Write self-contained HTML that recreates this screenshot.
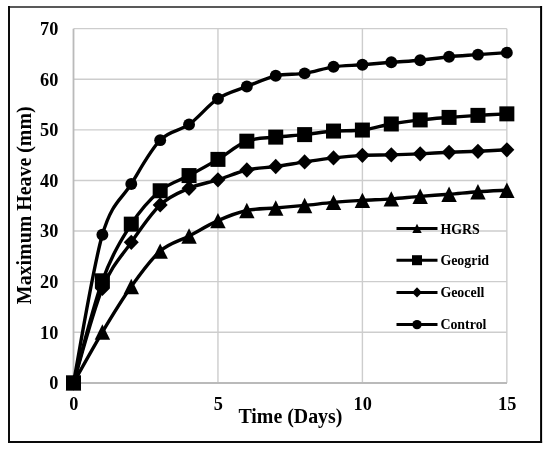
<!DOCTYPE html>
<html><head><meta charset="utf-8"><style>
html,body{margin:0;padding:0;background:#fff;}
body{width:550px;height:451px;overflow:hidden;}
svg{display:block;}
text{font-family:"Liberation Serif","Times New Roman",serif;font-weight:bold;fill:#000;}
</style></head><body>
<svg width="550" height="451" viewBox="0 0 550 451">
<rect x="0" y="0" width="550" height="451" fill="#fff"/>
<line x1="8" y1="6.9" x2="542" y2="6.9" stroke="#595959" stroke-width="2"/>
<line x1="9" y1="6" x2="9" y2="443" stroke="#0d0d0d" stroke-width="2"/>
<line x1="541.1" y1="6" x2="541.1" y2="443" stroke="#000" stroke-width="2"/>
<line x1="8" y1="441.9" x2="542.1" y2="441.9" stroke="#0a0a0a" stroke-width="2"/>
<g stroke="#cdcdcd" stroke-width="1.4">
<line x1="73.50" y1="332.21" x2="506.85" y2="332.21"/>
<line x1="73.50" y1="281.62" x2="506.85" y2="281.62"/>
<line x1="73.50" y1="231.03" x2="506.85" y2="231.03"/>
<line x1="73.50" y1="180.44" x2="506.85" y2="180.44"/>
<line x1="73.50" y1="129.85" x2="506.85" y2="129.85"/>
<line x1="73.50" y1="79.26" x2="506.85" y2="79.26"/>
<line x1="73.50" y1="28.67" x2="506.85" y2="28.67"/>
<line x1="217.95" y1="28.67" x2="217.95" y2="382.80"/>
<line x1="362.40" y1="28.67" x2="362.40" y2="382.80"/>
<line x1="506.85" y1="28.67" x2="506.85" y2="382.80"/>
</g>
<line x1="73.5" y1="28.67" x2="73.5" y2="383.8" stroke="#bababa" stroke-width="1.8"/>
<line x1="72.6" y1="382.95" x2="507" y2="382.95" stroke="#bababa" stroke-width="2"/>
<g font-size="18.3" text-anchor="end">
<text x="58.3" y="389.10">0</text>
<text x="58.3" y="338.51">10</text>
<text x="58.3" y="287.92">20</text>
<text x="58.3" y="237.33">30</text>
<text x="58.3" y="186.74">40</text>
<text x="58.3" y="136.15">50</text>
<text x="58.3" y="85.56">60</text>
<text x="58.3" y="34.97">70</text>
</g>
<g font-size="18.3" text-anchor="middle">
<text x="73.80" y="409.7">0</text>
<text x="218.25" y="409.7">5</text>
<text x="362.70" y="409.7">10</text>
<text x="507.15" y="409.7">15</text>
</g>
<text x="290.4" y="423.1" font-size="19.9" text-anchor="middle">Time (Days)</text>
<text transform="translate(31.05,205.25) rotate(-90)" font-size="19.9" text-anchor="middle">Maximum Heave (mm)</text>
<g fill="none" stroke="#000" stroke-width="3.4" stroke-linejoin="round">
<path d="M73.50,382.80 C78.31,374.33 92.76,348.05 102.39,332.01 C112.02,315.96 121.65,300.01 131.28,286.53 C140.91,273.04 150.54,259.53 160.17,251.11 C169.80,242.70 179.43,241.12 189.06,236.04 C198.69,230.95 208.32,224.87 217.95,220.61 C227.58,216.35 237.21,212.60 246.84,210.49 C256.47,208.38 266.10,208.80 275.73,207.96 C285.36,207.12 294.99,206.36 304.62,205.43 C314.25,204.50 323.88,203.24 333.51,202.40 C343.14,201.55 352.77,200.96 362.40,200.37 C372.03,199.78 381.66,199.53 391.29,198.85 C400.92,198.18 410.55,197.08 420.18,196.33 C429.81,195.57 439.44,195.06 449.07,194.30 C458.70,193.54 468.33,192.45 477.96,191.77 C487.59,191.10 502.04,190.51 506.85,190.25"/>
<path d="M73.50,382.80 C78.31,365.80 92.76,307.25 102.39,280.81 C112.02,254.37 121.65,239.16 131.28,224.15 C140.91,209.14 150.54,198.85 160.17,190.76 C169.80,182.67 179.43,180.81 189.06,175.58 C198.69,170.36 208.32,165.13 217.95,159.39 C227.58,153.66 237.21,144.89 246.84,141.18 C256.47,137.47 266.10,138.23 275.73,137.13 C285.36,136.04 294.99,135.62 304.62,134.61 C314.25,133.59 323.88,131.82 333.51,131.06 C343.14,130.31 352.77,131.23 362.40,130.05 C372.03,128.87 381.66,125.67 391.29,123.98 C400.92,122.30 410.55,121.03 420.18,119.93 C429.81,118.84 439.44,118.16 449.07,117.40 C458.70,116.65 468.33,115.97 477.96,115.38 C487.59,114.79 502.04,114.12 506.85,113.86"/>
<path d="M73.50,382.80 C78.31,367.07 92.76,311.81 102.39,288.40 C112.02,264.99 121.65,256.27 131.28,242.36 C140.91,228.45 150.54,213.95 160.17,204.93 C169.80,195.90 179.43,192.41 189.06,188.23 C198.69,184.05 208.32,182.87 217.95,179.83 C227.58,176.80 237.21,172.24 246.84,170.02 C256.47,167.79 266.10,167.83 275.73,166.48 C285.36,165.13 294.99,163.36 304.62,161.92 C314.25,160.49 323.88,158.97 333.51,157.88 C343.14,156.78 352.77,155.85 362.40,155.35 C372.03,154.84 381.66,155.09 391.29,154.84 C400.92,154.59 410.55,154.25 420.18,153.83 C429.81,153.41 439.44,152.73 449.07,152.31 C458.70,151.89 468.33,151.72 477.96,151.30 C487.59,150.88 502.04,150.04 506.85,149.78"/>
<path d="M73.50,382.80 C78.31,358.14 92.76,267.97 102.39,234.82 C112.02,201.68 121.65,199.71 131.28,183.93 C140.91,168.16 150.54,150.08 160.17,140.17 C169.80,130.26 179.43,131.40 189.06,124.49 C198.69,117.57 208.32,105.01 217.95,98.69 C227.58,92.36 237.21,90.36 246.84,86.54 C256.47,82.73 266.10,78.01 275.73,75.82 C285.36,73.63 294.99,74.89 304.62,73.39 C314.25,71.89 323.88,68.25 333.51,66.81 C343.14,65.38 352.77,65.55 362.40,64.79 C372.03,64.03 381.66,63.02 391.29,62.26 C400.92,61.50 410.55,61.17 420.18,60.24 C429.81,59.31 439.44,57.62 449.07,56.70 C458.70,55.77 468.33,55.35 477.96,54.67 C487.59,54.00 502.04,52.99 506.85,52.65"/>
</g>
<g fill="#000">
<path d="M73.50,375.07 L81.22,390.53 L65.78,390.53 Z"/>
<path d="M102.39,324.28 L110.11,339.73 L94.67,339.73 Z"/>
<path d="M131.28,278.80 L139.00,294.25 L123.56,294.25 Z"/>
<path d="M160.17,243.39 L167.90,258.84 L152.45,258.84 Z"/>
<path d="M189.06,228.31 L196.78,243.76 L181.34,243.76 Z"/>
<path d="M217.95,212.88 L225.67,228.33 L210.22,228.33 Z"/>
<path d="M246.84,202.77 L254.56,218.22 L239.12,218.22 Z"/>
<path d="M275.73,200.24 L283.46,215.69 L268.00,215.69 Z"/>
<path d="M304.62,197.71 L312.35,213.16 L296.89,213.16 Z"/>
<path d="M333.51,194.67 L341.24,210.12 L325.78,210.12 Z"/>
<path d="M362.40,192.65 L370.12,208.10 L354.67,208.10 Z"/>
<path d="M391.29,191.13 L399.02,206.58 L383.56,206.58 Z"/>
<path d="M420.18,188.60 L427.91,204.05 L412.45,204.05 Z"/>
<path d="M449.07,186.58 L456.80,202.03 L441.34,202.03 Z"/>
<path d="M477.96,184.05 L485.69,199.50 L470.24,199.50 Z"/>
<path d="M506.85,182.53 L514.58,197.98 L499.12,197.98 Z"/>
<rect x="66.00" y="375.30" width="15.00" height="15.00"/>
<rect x="94.89" y="273.31" width="15.00" height="15.00"/>
<rect x="123.78" y="216.65" width="15.00" height="15.00"/>
<rect x="152.67" y="183.26" width="15.00" height="15.00"/>
<rect x="181.56" y="168.08" width="15.00" height="15.00"/>
<rect x="210.45" y="151.89" width="15.00" height="15.00"/>
<rect x="239.34" y="133.68" width="15.00" height="15.00"/>
<rect x="268.23" y="129.63" width="15.00" height="15.00"/>
<rect x="297.12" y="127.11" width="15.00" height="15.00"/>
<rect x="326.01" y="123.56" width="15.00" height="15.00"/>
<rect x="354.90" y="122.55" width="15.00" height="15.00"/>
<rect x="383.79" y="116.48" width="15.00" height="15.00"/>
<rect x="412.68" y="112.43" width="15.00" height="15.00"/>
<rect x="441.57" y="109.90" width="15.00" height="15.00"/>
<rect x="470.46" y="107.88" width="15.00" height="15.00"/>
<rect x="499.35" y="106.36" width="15.00" height="15.00"/>
<path d="M73.50,375.15 L81.00,382.80 L73.50,390.45 L66.00,382.80 Z"/>
<path d="M102.39,280.75 L109.89,288.40 L102.39,296.05 L94.89,288.40 Z"/>
<path d="M131.28,234.71 L138.78,242.36 L131.28,250.01 L123.78,242.36 Z"/>
<path d="M160.17,197.28 L167.67,204.93 L160.17,212.58 L152.67,204.93 Z"/>
<path d="M189.06,180.58 L196.56,188.23 L189.06,195.88 L181.56,188.23 Z"/>
<path d="M217.95,172.18 L225.45,179.83 L217.95,187.48 L210.45,179.83 Z"/>
<path d="M246.84,162.37 L254.34,170.02 L246.84,177.67 L239.34,170.02 Z"/>
<path d="M275.73,158.83 L283.23,166.48 L275.73,174.13 L268.23,166.48 Z"/>
<path d="M304.62,154.27 L312.12,161.92 L304.62,169.57 L297.12,161.92 Z"/>
<path d="M333.51,150.23 L341.01,157.88 L333.51,165.53 L326.01,157.88 Z"/>
<path d="M362.40,147.70 L369.90,155.35 L362.40,163.00 L354.90,155.35 Z"/>
<path d="M391.29,147.19 L398.79,154.84 L391.29,162.49 L383.79,154.84 Z"/>
<path d="M420.18,146.18 L427.68,153.83 L420.18,161.48 L412.68,153.83 Z"/>
<path d="M449.07,144.66 L456.57,152.31 L449.07,159.96 L441.57,152.31 Z"/>
<path d="M477.96,143.65 L485.46,151.30 L477.96,158.95 L470.46,151.30 Z"/>
<path d="M506.85,142.13 L514.35,149.78 L506.85,157.43 L499.35,149.78 Z"/>
<circle cx="73.50" cy="382.80" r="5.95"/>
<circle cx="102.39" cy="234.82" r="5.95"/>
<circle cx="131.28" cy="183.93" r="5.95"/>
<circle cx="160.17" cy="140.17" r="5.95"/>
<circle cx="189.06" cy="124.49" r="5.95"/>
<circle cx="217.95" cy="98.69" r="5.95"/>
<circle cx="246.84" cy="86.54" r="5.95"/>
<circle cx="275.73" cy="75.82" r="5.95"/>
<circle cx="304.62" cy="73.39" r="5.95"/>
<circle cx="333.51" cy="66.81" r="5.95"/>
<circle cx="362.40" cy="64.79" r="5.95"/>
<circle cx="391.29" cy="62.26" r="5.95"/>
<circle cx="420.18" cy="60.24" r="5.95"/>
<circle cx="449.07" cy="56.70" r="5.95"/>
<circle cx="477.96" cy="54.67" r="5.95"/>
<circle cx="506.85" cy="52.65" r="5.95"/>
</g>
<g font-size="13.9" fill="#000">
<line x1="396.5" y1="228.40" x2="437.5" y2="228.40" stroke="#000" stroke-width="3"/>
<path d="M417.00,223.70 L421.70,233.10 L412.30,233.10 Z"/>
<text x="440.4" y="233.50">HGRS</text>
<line x1="396.5" y1="260.20" x2="437.5" y2="260.20" stroke="#000" stroke-width="3"/>
<rect x="412.00" y="255.20" width="10.00" height="10.00"/>
<text x="440.4" y="265.30">Geogrid</text>
<line x1="396.5" y1="292.40" x2="437.5" y2="292.40" stroke="#000" stroke-width="3"/>
<path d="M417.00,287.30 L422.00,292.40 L417.00,297.50 L412.00,292.40 Z"/>
<text x="440.4" y="297.00">Geocell</text>
<line x1="396.5" y1="324.60" x2="437.5" y2="324.60" stroke="#000" stroke-width="3"/>
<circle cx="417.00" cy="324.60" r="4.70"/>
<text x="440.4" y="329.20">Control</text>
</g>
</svg>
</body></html>
